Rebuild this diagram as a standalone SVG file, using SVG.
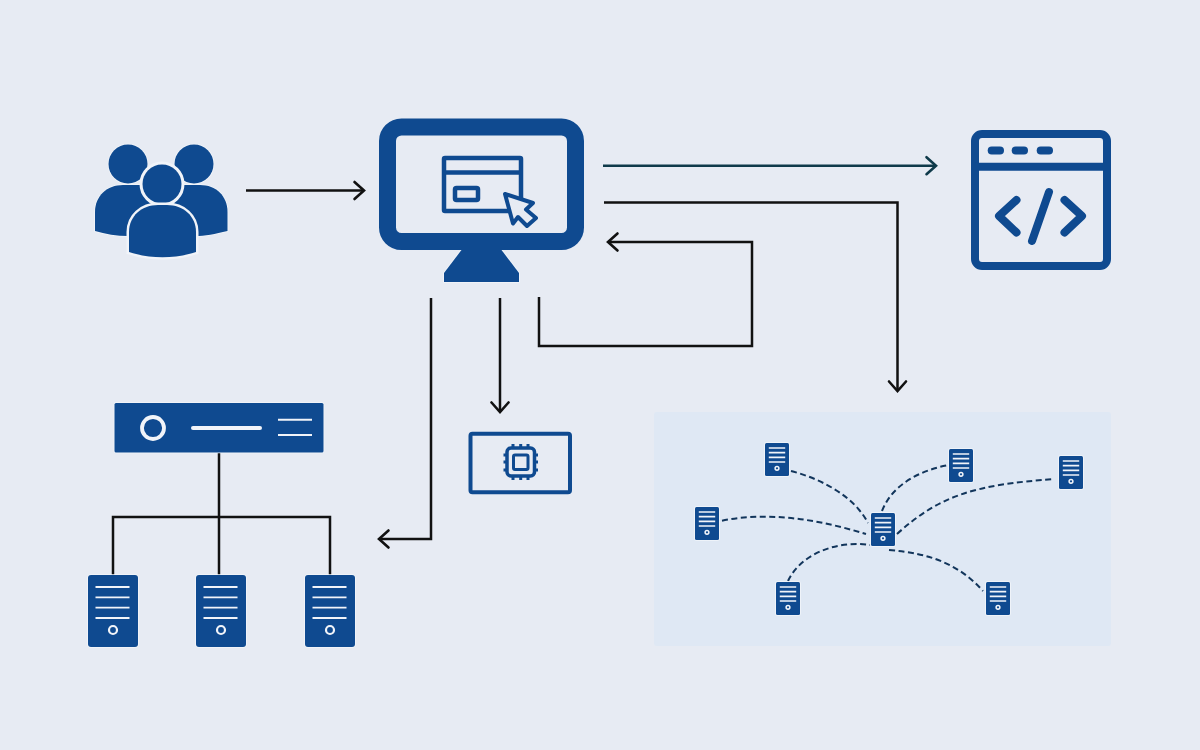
<svg xmlns="http://www.w3.org/2000/svg" width="1200" height="750" viewBox="0 0 1200 750">
<style>
.b{fill:#0f4a90}
.h{stroke:#f3f6fa;stroke-width:1.6;paint-order:stroke}
.o{fill:none;stroke:#0f4a90}
.w{fill:none;stroke:#f1f4f9;stroke-linecap:butt}
.c{fill:none;stroke:#111;stroke-width:2.5;stroke-linejoin:miter}
.a{marker-end:url(#ah)}
.d{fill:none;stroke:#12355b;stroke-width:2;stroke-dasharray:6 3.5}
</style>
<defs>
<marker id="ah" markerUnits="userSpaceOnUse" viewBox="-12 -11 14 22" refX="0" refY="0" markerWidth="14" markerHeight="22" orient="auto">
<path d="M-9.500,-8.500 L0,0 L-9.500,8.500" fill="none" stroke="context-stroke" stroke-width="2.600" stroke-linecap="round" stroke-linejoin="miter"/>
</marker>
<g id="srvL">
<rect x="0" y="0" width="50" height="72" rx="3" class="b h"/>
<path d="M7.500,12H41.500M7.500,22.300H41.500M7.500,32.700H41.500M7.500,43H41.500" class="w" stroke-width="1.800"/>
<circle cx="25" cy="55" r="4" class="w" stroke-width="2.200"/>
</g>
<g id="srvS">
<rect x="0" y="0" width="24" height="33" rx="1.500" class="b h"/>
<path d="M3.800,5H20.200M3.800,9.700H20.200M3.800,14.400H20.200M3.800,19H20.200" class="w" stroke-width="1.700"/>
<circle cx="12" cy="25.300" r="1.900" class="w" stroke-width="1.500"/>
</g>
</defs>
<rect width="1200" height="750" fill="#e7ebf3"/>
<rect id="panel" x="654" y="412" width="457" height="234" rx="3" fill="#dfe8f4"/>

<g id="connectors">
<path class="c a" d="M246,190.500H364"/>
<path class="c a" d="M603,165.700H936" style="stroke:#0f3a4a"/>
<path class="c a" d="M604,202.500H897.500V391"/>
<path class="c a" d="M539,297V346H752V242H608"/>
<path class="c a" d="M431,298V539H379"/>
<path class="c a" d="M500,298V412"/>
<path class="c" d="M219,453V575M113,575V517H330V575"/>
<path class="d" d="M791,471C825,480 855,498 868,523"/>
<path class="d" d="M722,520.700C770,511 820,520 866,534"/>
<path class="d" d="M788,581C800,555 835,540 870,545"/>
<path class="d" d="M882,511C892,485 920,470 949,465"/>
<path class="d" d="M897,534C940,495 975,485 1054,479"/>
<path class="d" d="M889,550C930,553 960,565 983,591"/>
</g>

<g id="users">
<circle cx="128" cy="164" r="19.500" class="b h"/>
<circle cx="194" cy="164" r="19.500" class="b h"/>
<path d="M95,231V212C95,196 107,185 123,185H200C216,185 227.500,196 227.500,212V231C215,234 205,236 195,236H128C117,236 105,234 95,231Z" class="b h"/>
<circle cx="162" cy="184" r="19.500" class="b" stroke="#f1f4f9" stroke-width="6" paint-order="stroke"/>
<path d="M129,252V232C129,216 142,205 158,205H167C183,205 196,216 196,232V252C175,259 150,259 129,252Z" class="b" stroke="#f1f4f9" stroke-width="5" paint-order="stroke"/>
</g>

<g id="monitor">
<path d="M463,248H500L519,273V282H444V273Z" class="b h"/>
<rect x="387.500" y="127" width="188" height="114.500" rx="14" class="o" stroke-width="17"/>
<rect x="444" y="158" width="77" height="53" rx="1" class="o" stroke-width="4.500"/>
<path d="M444,172.500H521" class="o" stroke-width="4.500"/>
<rect x="455" y="188" width="23" height="12" rx="1.500" class="o" stroke-width="4.500"/>
<path d="M505,194L533,203L526,209.500L536,218L527,226L518,217L513,223.500Z" fill="#e7ebf3" stroke="#0f4a90" stroke-width="4" stroke-linejoin="round"/>
</g>

<g id="browser">
<rect x="975" y="134" width="132" height="132" rx="7" class="o" stroke-width="8"/>
<path d="M975,166.700H1107" class="o" stroke-width="8"/>
<rect x="987.700" y="146.500" width="16.300" height="8" rx="4" class="b"/>
<rect x="1011.700" y="146.500" width="16.300" height="8" rx="4" class="b"/>
<rect x="1036.700" y="146.500" width="16.300" height="8" rx="4" class="b"/>
<path d="M1016.500,200L999,216L1016.500,232.500M1064.500,200L1082,216L1064.500,232.500M1049,192L1032,241" class="o" stroke-width="8" stroke-linecap="round" stroke-linejoin="round"/>
</g>

<g id="chip">
<rect x="470.500" y="433.800" width="99.500" height="58.500" rx="2" class="o" stroke-width="4"/>
<rect x="507" y="448" width="27.500" height="28" rx="4" class="o" stroke-width="3.500"/>
<rect x="513.500" y="455" width="14.500" height="14.500" rx="1.500" class="o" stroke-width="3"/>
<path d="M513,444V448M520.700,444V448M528,444V448M513,476V480M520.700,476V480M528,476V480M503.500,455H507M503.500,462H507M503.500,470H507M534.500,455H538M534.500,462H538M534.500,470H538" class="o" stroke-width="3"/>
</g>

<g id="rack">
<rect x="114.500" y="403" width="209" height="49.500" rx="1.500" class="b h"/>
<circle cx="153" cy="428" r="11" class="w" stroke-width="3.800"/>
<path d="M193,428H260" class="w" stroke-width="4" style="stroke-linecap:round"/>
<path d="M278,419.700H312M278,435H312" class="w" stroke-width="2"/>
</g>
<use id="server-1" href="#srvL" x="88" y="575"/>
<use id="server-2" href="#srvL" x="196" y="575"/>
<use id="server-3" href="#srvL" x="305" y="575"/>

<use id="node-hub" href="#srvS" x="871" y="513"/>
<use id="node-1" href="#srvS" x="765" y="443"/>
<use id="node-2" href="#srvS" x="695" y="507"/>
<use id="node-3" href="#srvS" x="776" y="582"/>
<use id="node-4" href="#srvS" x="949" y="449"/>
<use id="node-5" href="#srvS" x="1059" y="456"/>
<use id="node-6" href="#srvS" x="986" y="582"/>
</svg>
